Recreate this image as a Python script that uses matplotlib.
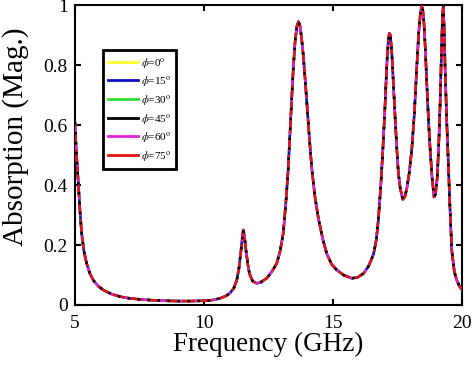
import numpy as np
import matplotlib
matplotlib.use('Agg')
import matplotlib.pyplot as plt
from matplotlib.lines import Line2D

# Absorption spectrum (all six angles overlap)
freq = [5.0, 5.05, 5.13, 5.2, 5.26, 5.35, 5.45, 5.58, 5.71, 5.9, 6.1, 6.4,
        6.74, 7.13, 7.6, 8.0, 8.5, 9.0, 9.5, 10.0, 10.3, 10.62, 10.85, 11.0,
        11.15, 11.27, 11.35, 11.42, 11.48, 11.52, 11.56, 11.63, 11.7, 11.76,
        11.88, 12.04, 12.2, 12.43, 12.62, 12.82, 12.95, 13.07, 13.18, 13.26,
        13.33, 13.4, 13.46, 13.53, 13.6, 13.66, 13.72, 13.78, 13.85, 13.92,
        13.98, 14.08, 14.17, 14.3, 14.43, 14.6, 14.76, 14.95, 15.14, 15.4,
        15.72, 15.95, 16.18, 16.38, 16.57, 16.68, 16.76, 16.85, 16.93, 17.0,
        17.05, 17.1, 17.15, 17.18, 17.22, 17.27, 17.33, 17.4, 17.47, 17.53,
        17.6, 17.7, 17.78, 17.86, 17.95, 18.05, 18.15, 18.24, 18.32, 18.38,
        18.43, 18.47, 18.52, 18.57, 18.63, 18.7, 18.76, 18.83, 18.91, 18.97,
        19.04, 19.1, 19.15, 19.2, 19.24, 19.27, 19.3, 19.34, 19.4, 19.47,
        19.53, 19.6, 19.7, 19.79, 19.9, 20.0]
absorption = [0.61, 0.52, 0.41, 0.31, 0.24, 0.18, 0.14, 0.105, 0.083, 0.063,
              0.05, 0.037, 0.028, 0.022, 0.018, 0.016, 0.014, 0.013, 0.013,
              0.014, 0.016, 0.022, 0.03, 0.039, 0.055, 0.083, 0.12, 0.17, 0.22,
              0.25, 0.235, 0.18, 0.135, 0.105, 0.08, 0.072, 0.076, 0.089, 0.11,
              0.139, 0.18, 0.239, 0.35, 0.45, 0.57, 0.69, 0.79, 0.88, 0.93,
              0.945, 0.93, 0.89, 0.83, 0.75, 0.68, 0.56, 0.46, 0.36, 0.29, 0.22,
              0.17, 0.135, 0.117, 0.1, 0.089, 0.092, 0.105, 0.13, 0.17, 0.22,
              0.29, 0.4, 0.52, 0.64, 0.74, 0.83, 0.89, 0.906, 0.9, 0.85, 0.75,
              0.63, 0.52, 0.44, 0.39, 0.352, 0.36, 0.39, 0.44, 0.52, 0.64, 0.79,
              0.91, 0.97, 0.995, 0.99, 0.94, 0.86, 0.74, 0.61, 0.52, 0.43, 0.36,
              0.37, 0.43, 0.55, 0.68, 0.85, 0.97, 1.0, 0.93, 0.79, 0.62, 0.46,
              0.32, 0.18, 0.11, 0.083, 0.062, 0.05]
angles = [0, 15, 30, 45, 60, 75]
colors = ['#ffff33', '#1010c0', '#33dd33', '#000000', '#e020e0', '#dd1515']
styles = ['-', '-', '-', (0, (1, 3)), (0, (5, 1.5)), (3, (5, 2))]
zorders = [2, 4, 3, 7, 5, 6]

plt.rcParams['font.family'] = ['Liberation Serif', 'DejaVu Serif']
plt.rcParams['mathtext.fontset'] = 'stix'

fig = plt.figure(figsize=(4.74, 3.67), dpi=100)
ax = fig.add_axes([0.158, 0.169, 0.817, 0.817])

for ang, c, ls, z in zip(angles, colors, styles, zorders):
    ax.plot(freq, absorption, color=c, linestyle=ls, linewidth=1.8, zorder=z)

ax.set_xlim(5, 20)
ax.set_ylim(0, 1)
ax.set_xticks([5, 10, 15, 20])
ax.set_yticks([0, 0.2, 0.4, 0.6, 0.8, 1])
ax.set_yticklabels(['0', '0.2', '0.4', '0.6', '0.8', '1'])
ax.tick_params(direction='in', top=True, right=True, length=4, width=1.5,
               labelsize=14)
ax.tick_params(axis='x', pad=7)
ax.tick_params(axis='y', pad=5)
for s in ax.spines.values():
    s.set_linewidth(1.5)

ax.set_xlabel('Frequency (GHz)', fontsize=19.5, labelpad=0)
ax.set_ylabel('Absorption (Mag.)', fontsize=21)
ax.yaxis.set_label_coords(-0.118, 0.56)

handles = [Line2D([], [], color=c, linewidth=2) for c in colors]
labels = [r'$\phi$=%d$^{\rm o}$' % a for a in angles]
leg = ax.legend(handles, labels, loc='upper left', bbox_to_anchor=(0.072, 0.85),
                borderaxespad=0, fontsize=8, handlelength=2.7, handletextpad=0.2,
                labelspacing=0.42, fancybox=False, framealpha=1,
                edgecolor='black', borderpad=0.5)
leg.get_frame().set_linewidth(2)
leg.set_zorder(10)

fig.savefig('out.png', dpi=100)
